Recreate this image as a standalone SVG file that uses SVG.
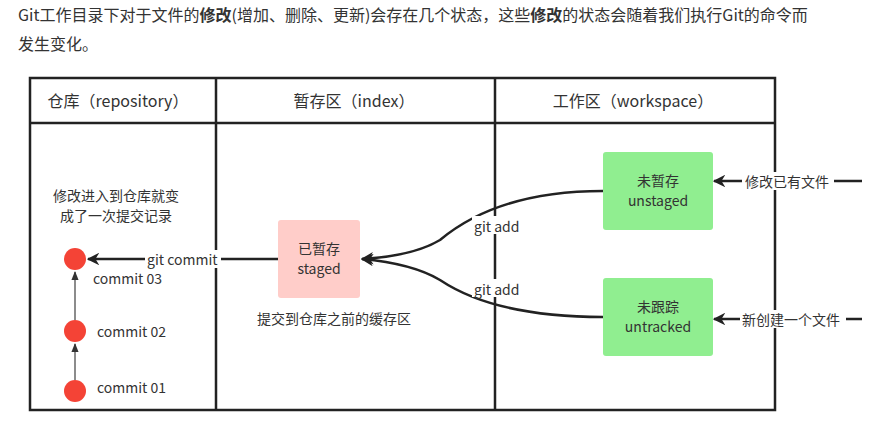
<svg xmlns="http://www.w3.org/2000/svg" width="896" height="426" viewBox="0 0 896 426">
<style>
text{font-family:"Noto Sans CJK SC","Liberation Sans",sans-serif;fill:#333}
.h{font-size:16px;text-anchor:middle}
.s{font-size:14px}
.m{font-size:14px;text-anchor:middle}
.ln{stroke:#222;stroke-width:2.5;fill:none}
.lb{stroke:#fff;stroke-width:6;fill:#fff}
</style>
<defs>
<marker id="a" viewBox="0 0 10 10" refX="9" refY="5" markerWidth="5" markerHeight="5" orient="auto"><path d="M0,0L10,5L0,10L3,5z" fill="#222"/></marker>
<marker id="b" viewBox="0 0 10 10" refX="9" refY="5" markerWidth="6" markerHeight="6" orient="auto"><path d="M0,1L10,5L0,9z" fill="#333"/></marker>
</defs>
<rect width="896" height="426" fill="#fff"/>
<text x="18" y="21" style="font-size:16px">Git工作目录下对于文件的<tspan font-weight="bold">修改</tspan>(增加、删除、更新)会存在<tspan style="fill:#333">几个</tspan>状态，这些<tspan font-weight="bold">修改</tspan>的状态会随着我们执行Git的命令而</text>
<text x="18" y="50" style="font-size:16px">发生变化。</text>
<g id="table" stroke="#222" stroke-width="2.5" fill="none">
<rect x="30" y="78" width="745" height="332"/>
<line x1="30" y1="123" x2="775" y2="123"/>
<line x1="216" y1="78" x2="216" y2="410"/>
<line x1="495" y1="78" x2="495" y2="410"/>
</g>
<text class="h" x="118" y="107">仓库（repository）</text>
<text class="h" x="354" y="107">暂存区（index）</text>
<text class="h" x="633" y="107">工作区（workspace）</text>
<text class="m" x="116" y="201">修改进入到仓库就变</text>
<text class="m" x="116" y="221">成了一次提交记录</text>
<g id="connectors">
<line x1="75" y1="380" x2="75" y2="344" stroke="#666" stroke-width="1.5" marker-end="url(#b)"/>
<line x1="75" y1="320" x2="75" y2="272" stroke="#666" stroke-width="1.5" marker-end="url(#b)"/>
<line class="ln" x1="278" y1="259" x2="88" y2="259" marker-end="url(#a)"/>
<path class="ln" d="M603,191 C520,191 470,215 440,240 C420,252 395,257 362,259" marker-end="url(#a)"/>
<path class="ln" d="M603,317 C520,317 470,300 440,280 C420,268 395,262 362,259" marker-end="url(#a)"/>
<line class="ln" x1="862" y1="181" x2="714" y2="181" marker-end="url(#a)"/>
<line class="ln" x1="862" y1="319" x2="714" y2="319" marker-end="url(#a)"/>
<rect x="145" y="250" width="76" height="18" fill="#fff"/>
<text class="s" x="147" y="265">git commit</text>
<rect x="472" y="216" width="52" height="18" fill="#fff"/>
<text class="s" x="474" y="232">git add</text>
<rect x="472" y="279" width="52" height="18" fill="#fff"/>
<text class="s" x="474" y="295">git add</text>
<rect x="742" y="172" width="92" height="18" fill="#fff"/>
<text class="s" x="745" y="187">修改已有文件</text>
<rect x="740" y="310" width="106" height="18" fill="#fff"/>
<text class="s" x="742" y="325">新创建一个文件</text>
</g>
<g id="c03"><circle cx="75" cy="259" r="11" fill="#f44336"/><text class="s" x="93" y="284">commit  03</text></g>
<g id="c02"><circle cx="75" cy="331" r="11" fill="#f44336"/><text class="s" x="97" y="337">commit  02</text></g>
<g id="c01"><circle cx="75" cy="391" r="11" fill="#f44336"/><text class="s" x="97" y="393">commit  01</text></g>
<g id="staged"><rect x="278" y="220" width="82" height="78" rx="3" fill="#ffcdc9"/><text class="m" x="319" y="254">已暂存</text><text class="m" x="319" y="274">staged</text></g>
<text class="m" x="334" y="324">提交到仓库之前的缓存区</text>
<g id="unstaged"><rect x="603" y="152" width="110" height="78" rx="3" fill="#90ee90"/><text class="m" x="658" y="186">未暂存</text><text class="m" x="658" y="206">unstaged</text></g>
<g id="untracked"><rect x="603" y="278" width="110" height="78" rx="3" fill="#90ee90"/><text class="m" x="658" y="312">未跟踪</text><text class="m" x="658" y="332">untracked</text></g>
</svg>
